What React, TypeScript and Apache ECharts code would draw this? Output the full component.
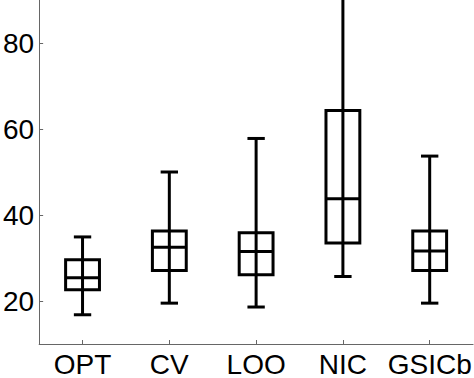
import React, { useEffect, useRef } from "react";
import * as echarts from "echarts";

const categories = ["OPT", "CV", "LOO", "NIC", "GSICb"];
// [lower whisker, Q1, median, Q3, upper whisker]
const boxValues: number[][] = [
  [16.8, 22.6, 25.4, 29.6, 34.9],
  [19.5, 27.1, 32.5, 36.3, 50.0],
  [18.6, 26.1, 31.5, 35.9, 57.8],
  [25.7, 33.5, 43.8, 64.3, 100.0],
  [19.5, 27.1, 31.6, 36.3, 53.7],
];
const yTicks = [20, 40, 60, 80];
const yMin = 10;
const yMax = 90;

export default function App() {
  const ref = useRef<HTMLDivElement>(null);
  useEffect(() => {
    if (!ref.current) return;
    const chart = echarts.init(ref.current, undefined, { renderer: "svg" });
    const font = "'Liberation Sans', Arial, Helvetica, sans-serif";
    const data = boxValues.map((v, i) => [i, ...v]);
    chart.setOption({
      animation: false,
      backgroundColor: "#ffffff",
      grid: { left: 33, right: 0, top: 0, bottom: 31, containLabel: false },
      xAxis: {
        type: "category",
        data: categories,
        boundaryGap: true,
        axisLine: { show: true, lineStyle: { color: "#666", width: 1 } },
        axisTick: { show: true, inside: true, length: 4, alignWithLabel: true, interval: 0, lineStyle: { color: "#666" } },
        axisLabel: { color: "#000", fontSize: 28, fontFamily: font, margin: 6, interval: 0, hideOverlap: false },
        splitLine: { show: false },
      },
      yAxis: {
        type: "value",
        min: yMin,
        max: yMax,
        axisLine: { show: true, lineStyle: { color: "#666", width: 1 } },
        axisTick: { show: true, inside: true, length: 4, customValues: yTicks, lineStyle: { color: "#666" } },
        axisLabel: { color: "#000", fontSize: 28, fontFamily: font, margin: 5, customValues: yTicks },
        splitLine: { show: false },
      },
      series: [
        {
          type: "custom",
          clip: true,
          data,
          encode: { x: 0, y: [1, 2, 3, 4, 5] },
          renderItem: (params: any, api: any) => {
            const idx = api.value(0);
            const lo = api.coord([idx, api.value(1)]);
            const q1 = api.coord([idx, api.value(2)]);
            const md = api.coord([idx, api.value(3)]);
            const q3 = api.coord([idx, api.value(4)]);
            const hi = api.coord([idx, api.value(5)]);
            const band = api.size([1, 0])[0];
            const cx = lo[0];
            const bw = band * 0.39;
            const cw = band * 0.2;
            const st = { stroke: "#000", lineWidth: 3, fill: "none" };
            return {
              type: "group",
              children: [
                { type: "line", shape: { x1: cx, y1: hi[1], x2: cx, y2: lo[1] }, style: st },
                { type: "line", shape: { x1: cx - cw / 2, y1: hi[1], x2: cx + cw / 2, y2: hi[1] }, style: st },
                { type: "line", shape: { x1: cx - cw / 2, y1: lo[1], x2: cx + cw / 2, y2: lo[1] }, style: st },
                { type: "rect", shape: { x: cx - bw / 2, y: q3[1], width: bw, height: q1[1] - q3[1] }, style: st },
                { type: "line", shape: { x1: cx - bw / 2, y1: md[1], x2: cx + bw / 2, y2: md[1] }, style: st },
              ],
            };
          },
        },
      ],
    });
    return () => chart.dispose();
  }, []);
  return (
    <div
      ref={ref}
      style={{ position: "fixed", left: 0, top: 0, width: 474, height: 378, background: "#fff" }}
    />
  );
}
